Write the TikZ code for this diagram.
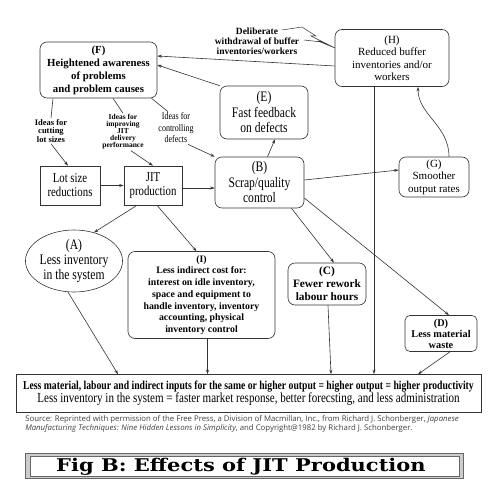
\documentclass[tikz,border=0pt]{standalone}
\usepackage{fontspec}
\setmainfont{Liberation Serif}
\newfontfamily\condfont[FakeStretch=0.8]{Liberation Serif}
\newfontfamily\srcfont{Open Sans}
\newfontfamily\titlefont[FakeStretch=1.2]{DejaVu Serif}
\usetikzlibrary{arrows.meta,shapes.geometric}

\begin{document}
\begin{tikzpicture}[x=1pt, y=-1pt, >={Stealth[length=4.5pt,width=3pt]},
  line width=0.6pt, black!80, text=black,
  rbox/.style={draw, rounded corners=7pt, align=center, inner sep=1pt},
  sbox/.style={draw, align=center, inner sep=1pt},
  idea/.style={align=center, inner sep=1pt}]
  \useasboundingbox (0,0) rectangle (495,495);

  % boxes
  \node[rbox, minimum width=117, minimum height=56,
    font=\bfseries\fontsize{10.8}{13}\selectfont] (F) at (98.5,70)
    {(F)\\Heightened awareness\\of problems\\and problem causes};
  \node[rbox, minimum width=114, minimum height=57,
    font=\fontsize{11}{12.5}\selectfont] (H) at (392,58)
    {(H)\\Reduced buffer\\inventories and/or\\workers};
  \node[rbox, minimum width=88, minimum height=53,
    font=\condfont\fontsize{14.5}{15.5}\selectfont] (E) at (264,112.5)
    {(E)\\Fast feedback\\on defects};
  \node[rbox, minimum width=89, minimum height=51,
    font=\condfont\fontsize{14.5}{15.5}\selectfont] (B) at (259.5,182.5)
    {(B)\\Scrap/quality\\control};
  \node[rbox, minimum width=70, minimum height=40,
    font=\fontsize{11}{12.5}\selectfont] (G) at (434,177)
    {(G)\\Smoother\\output rates};
  \node[sbox, minimum width=60, minimum height=39,
    font=\condfont\fontsize{13.5}{14}\selectfont] (lot) at (70,185.5)
    {Lot size\\reductions};
  \node[sbox, minimum width=58, minimum height=39,
    font=\condfont\fontsize{13.5}{14}\selectfont] (jit) at (153,185.5)
    {JIT\\production};
  \node[draw, ellipse, inner sep=0pt, minimum width=88, minimum height=62, align=center,
    font=\condfont\fontsize{14.5}{15}\selectfont] (A) at (74,261)
    {(A)\\Less inventory\\in the system};
  \node[rbox, minimum width=147, minimum height=87,
    font=\bfseries\fontsize{9.8}{11.7}\selectfont] (I) at (201.5,295)
    {(I)\\Less indirect cost for:\\interest on idle inventory,\\space and equipment to\\handle inventory, inventory\\accounting, physical\\inventory control};
  \node[rbox, minimum width=78, minimum height=42,
    font=\bfseries\fontsize{11.3}{13}\selectfont] (C) at (327,284)
    {(C)\\Fewer rework\\labour hours};
  \node[rbox, rounded corners=5pt, minimum width=72, minimum height=36,
    font=\bfseries\fontsize{10.3}{11}\selectfont] (D) at (441,333.5)
    {(D)\\Less material\\waste};
  \node[sbox, minimum width=465, minimum height=38, font=\condfont] (bot) at (248.5,393.5)
    {{\bfseries\fontsize{12.1}{14}\selectfont Less material, labour and indirect inputs for the same or higher output = higher output = higher productivity}\\
     {\fontsize{13.8}{14}\selectfont Less inventory in the system = faster market response, better forecsting, and less administration}};

  % labels
  \node[idea, font=\bfseries\fontsize{8.5}{8.5}\selectfont] (cut) at (51,131)
    {Ideas for\\cutting\\lot sizes};
  \node[idea, font=\bfseries\fontsize{7.5}{7}\selectfont] (imp) at (123,132)
    {Ideas for\\improving\\JIT\\delivery\\performance};
  \node[idea, font=\condfont\fontsize{10}{11.5}\selectfont] (ctl) at (176,128)
    {Ideas for\\controlling\\defects};
  \node[idea, font=\bfseries\fontsize{9.5}{10}\selectfont] (del) at (257,41)
    {Deliberate\\withdrawal of buffer\\inventories/workers};
  \draw[line width=0.5pt] (282,30) -- (302,27) -- (316,36) -- (311,36) -- (335,48)
    -- (318,41) -- (322,42) -- (304,40);

  \coordinate (hx) at ([xshift=-18pt]H.south);
  \coordinate (ix) at ([xshift=6pt]I.south);

  \path
    ([xshift=-45.5pt]F.south) edge (cut.north)
    ([xshift=14.5pt]F.south)  edge (imp.north)
    ([xshift=53pt]F.south)    edge ([xshift=-8pt]ctl.north)
    ;
  \path[->]
    (cut.south)              edge ([xshift=-2pt]lot.north)
    ([xshift=8pt]imp.south)  edge (jit.north)
    ([xshift=12pt]ctl.south) edge (B.north west)
    (lot)                    edge (jit)
    ([yshift=-2.5pt]jit.east) edge ([yshift=-5.5pt]B.west)
    ([xshift=8pt]B.north)    edge ([xshift=11pt]E.south)
    ([yshift=2.5pt]B.east)   edge ([yshift=7pt]G.west)
    ([yshift=-8pt]H.west)    edge ([yshift=14pt]F.east)
    (E.north west)           edge ([yshift=5pt]F.east)
    (hx)                     edge (hx |- bot.north)
    ([xshift=-16pt]jit.south) edge (A.55)
    ([xshift=4pt]jit.south)  edge ([xshift=-5pt]I.north)
    (A.259)                  edge ([xshift=-130.5pt]bot.north)
    (ix)                     edge (ix |- bot.north)
    ([xshift=32pt]B.south)   edge ([xshift=7pt]C.north)
    ([yshift=-15.5pt]B.east) edge ([xshift=8pt]D.north)
    ([xshift=1pt]C.south)    edge ([xshift=82.5pt]bot.north)
    ([xshift=9pt]D.south)    edge ([xshift=169.5pt]bot.north)
    ;
  \draw[->] ([xshift=15pt]G.north) .. controls (449,125) and (418,115) .. ([xshift=26pt]H.south);

  % source and title
  \node[anchor=north west, align=left, inner sep=0pt, text=black!75,
    font=\srcfont\fontsize{7.8}{9.5}\selectfont] (src) at (25,415)
    {Source: Reprinted with permission of the Free Press, a Division of Macmillan, Inc., from Richard J. Schonberger, \textit{Japanese}\\
     \textit{Manufacturing Techniques: Nine Hidden Lessons in Simplicity}, and Copyright@1982 by Richard J. Schonberger.};
  \draw[black!60, fill=black!20] (25,453) rectangle (463,478);
  \draw[black!60, fill=white] (30,456) rectangle (459,476);
  \node[font=\titlefont\bfseries\fontsize{17.5}{20}\selectfont] (title) at (241,466.5)
    {Fig B: Effects of JIT Production};
\end{tikzpicture}
\end{document}
